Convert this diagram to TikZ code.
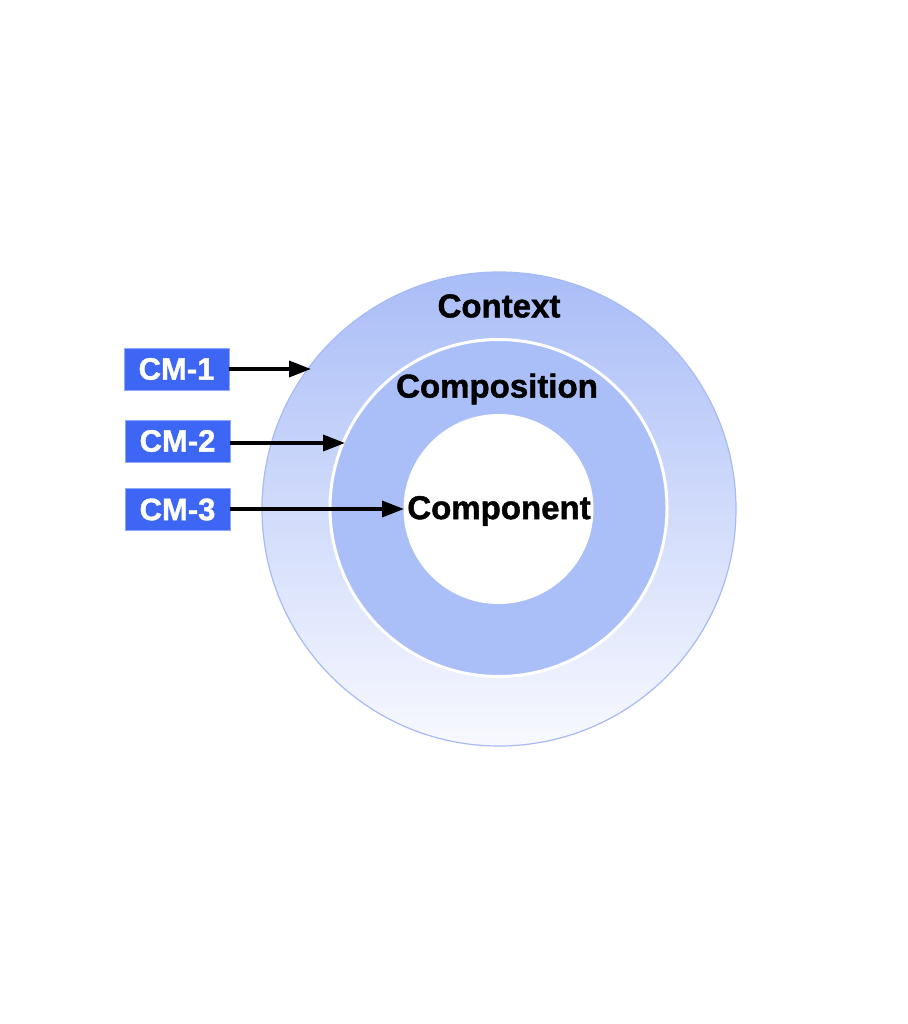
\documentclass[tikz,border=0pt]{standalone}
\usepackage{fontspec}
\setmainfont{Liberation Sans}
\newfontfamily\heavyfont{Liberation Sans Bold}[FakeBold=1.3]
\usetikzlibrary{arrows.meta}
\definecolor{boxblue}{HTML}{3D66F5}
\definecolor{boxedge}{HTML}{8FA8F7}
\definecolor{ringtop}{HTML}{A9BDF7}
\definecolor{ringbot}{HTML}{F8F9FF}
\definecolor{ringedge}{HTML}{A6BBF5}
\definecolor{midfill}{HTML}{AABEF8}
\tikzset{
  cmbox/.style={rectangle, fill=boxblue, draw=boxedge, line width=0.8pt, text=white,
    font=\fontsize{31}{36}\heavyfont, minimum width=105pt, minimum height=42pt, inner sep=0pt},
  lbl/.style={font=\fontsize{33}{38}\heavyfont, text=black, inner sep=0pt},
  conn/.style={line width=3.5pt, -{Triangle[length=22pt,width=16pt]}},
}
\begin{document}
\begin{tikzpicture}[x=1pt,y=-1pt]
\useasboundingbox (0,0) rectangle (907,1024);
% rings
\node (outer) [circle, minimum size=474pt, inner sep=0pt, top color=ringtop, bottom color=ringbot, draw=ringedge, line width=1.2pt] at (499,509) {};
\node (middle) [circle, minimum size=337pt, inner sep=0pt, fill=midfill, draw=white, line width=3pt] at (498.5,508) {};
\node (inner) [circle, minimum size=190pt, inner sep=0pt, fill=white] at (498.5,509) {};
% labels
\node (context) [lbl] at (499,306) {Context};
\node (composition) [lbl] at (497,389) {Composition};
\node (component) [lbl] at (499,511) {Component};
% boxes
\node (cm1) [cmbox] at (176.5,369) {CM-1};
\node (cm2) [cmbox] at (177.5,441) {CM-2};
\node (cm3) [cmbox] at (177.5,509.5) {CM-3};
% arrow targets
\coordinate (t1) at (311,369);
\coordinate (t2) at (345,443);
\coordinate (t3) at (404,509);
\draw[conn] (cm1.east |- t1) -- (t1);
\draw[conn] (cm2.east |- t2) -- (t2);
\draw[conn] (cm3.east |- t3) -- (t3);
\end{tikzpicture}
\end{document}
